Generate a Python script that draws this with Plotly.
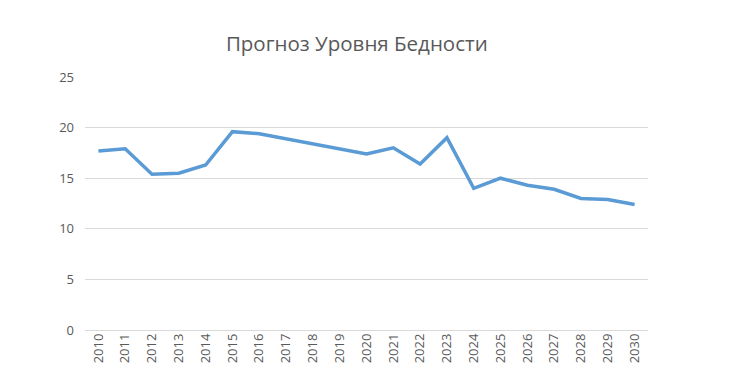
import plotly.graph_objects as go

years = [str(y) for y in range(2010, 2031)]
poverty = [17.7, 17.9, 15.4, 15.5, 16.3, 19.6, 19.4, 18.9, 18.4, 17.9, 17.4,
           18.0, 16.4, 19.0, 14.0, 15.0, 14.3, 13.9, 13.0, 12.9, 12.4]
y_ticks = [0, 5, 10, 15, 20, 25]

fig = go.Figure(go.Scatter(
    x=years, y=poverty, mode="lines",
    line=dict(color="#5B9BD5", width=3.5),
    hoverinfo="x+y",
))

font_fam = "Open Sans, Liberation Sans, sans-serif"
fig.update_layout(
    width=739, height=392,
    margin=dict(l=77, r=99, t=69, b=70, autoexpand=False),
    paper_bgcolor="white", plot_bgcolor="white",
    showlegend=False,
    title=dict(text="Прогноз Уровня Бедности", x=0.472, xanchor="center",
               y=0.908, yanchor="middle",
               font=dict(family=font_fam, size=20.5, color="#595959")),
    xaxis=dict(type="category", range=[-0.5, 20.5], tickangle=-90,
               showgrid=False, showline=False, ticks="", automargin=False,
               tickfont=dict(family=font_fam, size=13, color="#595959")),
    yaxis=dict(range=[0, 25], tickvals=y_ticks, showgrid=True,
               gridcolor="#D9D9D9", gridwidth=1, zeroline=True,
               zerolinecolor="#D9D9D9", zerolinewidth=1, showline=False,
               ticks="", ticklabelstandoff=10, automargin=False,
               tickfont=dict(family=font_fam, size=13, color="#595959")),
)

fig.write_html("out.html")
